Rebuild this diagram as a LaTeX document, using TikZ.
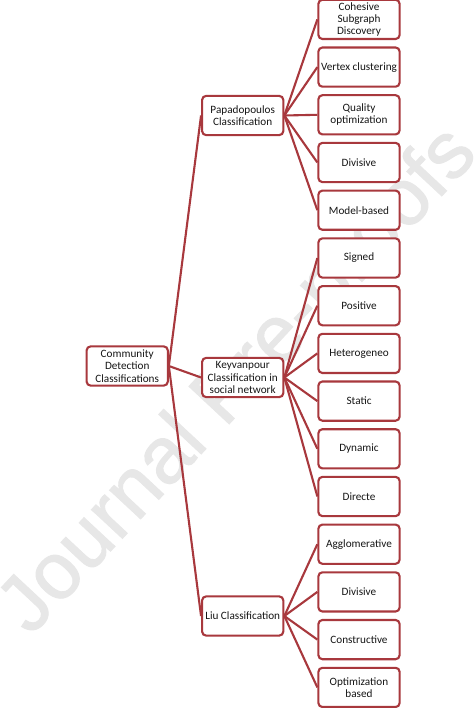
\documentclass[tikz,border=0pt]{standalone}
\usepackage{fontspec}
\setmainfont{Carlito}
\newfontfamily\wmfont[FakeBold=1.2]{Liberation Sans}
\usetikzlibrary{backgrounds}
\definecolor{boxred}{HTML}{A8383D}
\definecolor{txt}{HTML}{161616}
\definecolor{wm}{HTML}{E7E7E7}
\begin{document}
\begin{tikzpicture}[x=1pt,y=-1pt,
  box/.style={draw=boxred, line width=2.1pt, rounded corners=4pt, fill=white,
    minimum width=81.2pt, minimum height=39.2pt, inner sep=1pt,
    align=center, text=txt, font=\fontsize{11.2}{12.3}\selectfont},
  link/.style={draw=boxred, line width=2.1pt}]
\useasboundingbox (0,0) rectangle (474,708);
\begin{scope}[on background layer]
\fill[white] (0,0) rectangle (474,708);
\node[wm, rotate=47, font=\wmfont\fontsize{80}{80}\selectfont] (wmark) at (240,382) {Journal Pre-proofs};
\end{scope}

\node[box] (root) at (127.2,366) {Community\\Detection\\Classifications};
\node[box] (pap) at (242.7,115.5) {Papadopoulos\\Classification};
\node[box] (key) at (242.7,377.5) {Keyvanpour\\Classification in\\social network};
\node[box] (liu) at (242.7,616) {Liu Classification};

\def\lx{359}
\node[box] (l0) at (\lx,19.4) {Cohesive\\Subgraph\\Discovery};
\node[box] (l1) at (\lx,67.1) {Vertex clustering};
\node[box] (l2) at (\lx,114.8) {Quality\\optimization};
\node[box] (l3) at (\lx,162.5) {Divisive};
\node[box] (l4) at (\lx,210.2) {Model-based};
\node[box] (l5) at (\lx,258.0) {Signed};
\node[box] (l6) at (\lx,305.7) {Positive};
\node[box] (l7) at (\lx,353.4) {Heterogeneo};
\node[box] (l8) at (\lx,401.1) {Static};
\node[box] (l9) at (\lx,448.8) {Dynamic};
\node[box] (l10) at (\lx,496.5) {Directe};
\node[box] (l11) at (\lx,544.2) {Agglomerative};
\node[box] (l12) at (\lx,591.9) {Divisive};
\node[box] (l13) at (\lx,639.6) {Constructive};
\node[box] (l14) at (\lx,687.4) {Optimization\\based};

\begin{scope}[on background layer]
\foreach \c in {pap,key,liu} \draw[link] (root.east) -- (\c.west);
\foreach \i in {0,...,4} \draw[link] (pap.east) -- (l\i.west);
\foreach \i in {5,...,10} \draw[link] (key.east) -- (l\i.west);
\foreach \i in {11,...,14} \draw[link] (liu.east) -- (l\i.west);
\end{scope}
\end{tikzpicture}
\end{document}
